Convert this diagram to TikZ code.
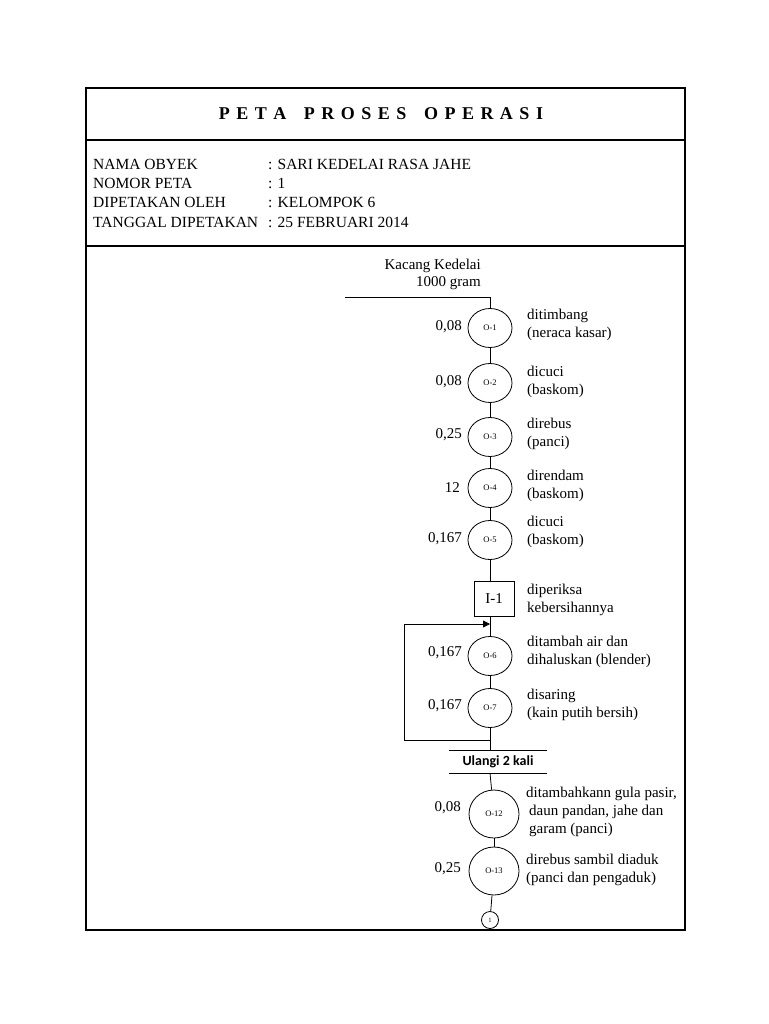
\documentclass[tikz,border=0pt]{standalone}
\usepackage{fontspec}
\setmainfont{Liberation Serif}
\newfontfamily\boxfont{Carlito}
\usetikzlibrary{shapes.geometric,arrows.meta}
\begin{document}
\begin{tikzpicture}[x=1pt,y=1pt]
	\tikzstyle{every node}+=[inner sep=0pt]
	\tikzstyle{opr}=[draw,ellipse,line width=0.8pt,minimum width=44pt,minimum height=39pt,font=\fontsize{8.5}{9}\selectfont]
	\tikzstyle{oprbig}=[opr,minimum width=50pt,minimum height=48pt]
	\tikzstyle{insp}=[draw,rectangle,line width=0.8pt,minimum width=40pt,minimum height=35pt,font=\fontsize{15}{18}\selectfont]
	\tikzstyle{tm}=[anchor=east,font=\fontsize{15}{18}\selectfont]
	\tikzstyle{desc}=[anchor=west,align=left,font=\fontsize{15}{18}\selectfont]
	\tikzstyle{info}=[anchor=base west,font=\fontsize{15.5}{19}\selectfont]
	\tikzstyle{flow}=[line width=0.8pt]
	\useasboundingbox (0,0) rectangle (768,-1024);
	% frame
	\draw [line width=1.2pt] (86,-88) rectangle (685,-930);
	\draw [line width=1.2pt] (86,-140) -- (685,-140);
	\draw [line width=1.2pt] (86,-246) -- (685,-246);
	\draw (381,-114) node (title) {\fontsize{18}{20}\selectfont\bfseries\spaceskip=6.5pt P E T A\hspace{11pt} P R O S E S\hspace{11pt} O P E R A S I};
	% info
	\draw (93,-170) node [info] (nama) {NAMA OBYEK};
	\draw (93,-189) node [info] (nomor) {NOMOR PETA};
	\draw (93,-208) node [info] (oleh) {DIPETAKAN OLEH};
	\draw (93,-227) node [info] (tgl) {TANGGAL DIPETAKAN};
	\draw (268,-170) node [info] (namav) {: SARI KEDELAI RASA JAHE};
	\draw (268,-189) node [info] (nomorv) {: 1};
	\draw (268,-208) node [info] (olehv) {: KELOMPOK 6};
	\draw (268,-227) node [info] (tglv) {: 25 FEBRUARI 2014};
	% bahan
	\draw (481,-274) node [anchor=east,align=right,font=\fontsize{15}{17}\selectfont] (bahan) {Kacang Kedelai\\1000 gram};
	\coordinate (startl) at (345,-297);
	\coordinate (start) at (490,-297);
	% operasi
	\draw (490,-328) node [opr] (o1) {O-1};
	\draw (490,-383) node [opr] (o2) {O-2};
	\draw (490,-437) node [opr] (o3) {O-3};
	\draw (490,-488) node [opr] (o4) {O-4};
	\draw (490,-540) node [opr] (o5) {O-5};
	\draw (494,-599) node [insp] (i1) {I-1};
	\draw (490,-656) node [opr] (o6) {O-6};
	\draw (490,-708) node [opr] (o7) {O-7};
	\draw (498,-762) node [minimum width=98pt,minimum height=22pt,font=\boxfont\bfseries\fontsize{14}{16}\selectfont] (ulangi) {Ulangi 2 kali};
	\draw (494,-814) node [oprbig] (o12) {O-12};
	\draw (494,-871) node [oprbig] (o13) {O-13};
	\draw (490,-920) node [draw,circle,line width=0.8pt,minimum size=17pt,font=\fontsize{6.5}{7}\selectfont] (c1) {1};
	% waktu
	\draw (462,-327) node [tm] (t1) {0,08};
	\draw (462,-382) node [tm] (t2) {0,08};
	\draw (462,-435) node [tm] (t3) {0,25};
	\draw (460,-488) node [tm] (t4) {12};
	\draw (462,-539) node [tm] (t5) {0,167};
	\draw (462,-653) node [tm] (t6) {0,167};
	\draw (462,-706) node [tm] (t7) {0,167};
	\draw (461,-808) node [tm] (t12) {0,08};
	\draw (461,-869) node [tm] (t13) {0,25};
	% keterangan
	\draw (527,-325) node [desc] (d1) {ditimbang\\(neraca kasar)};
	\draw (527,-382) node [desc] (d2) {dicuci\\(baskom)};
	\draw (527,-434) node [desc] (d3) {direbus\\(panci)};
	\draw (527,-486) node [desc] (d4) {direndam\\(baskom)};
	\draw (527,-532) node [desc] (d5) {dicuci\\(baskom)};
	\draw (527,-600) node [desc] (di1) {diperiksa\\kebersihannya};
	\draw (527,-652) node [desc] (d6) {ditambah air dan\\dihaluskan (blender)};
	\draw (527,-705) node [desc] (d7) {disaring\\(kain putih bersih)};
	\draw (526,-812) node [desc] (d12) {ditambahkann gula pasir,\\\hspace{3pt}daun pandan, jahe dan\\\hspace{3pt}garam (panci)};
	\draw (526,-870) node [desc] (d13) {direbus sambil diaduk\\(panci dan pengaduk)};
	% garis aliran
	\draw [flow] (startl) -- (start) -- (o1);
	\draw [flow] (o1) -- (o2);
	\draw [flow] (o2) -- (o3);
	\draw [flow] (o3) -- (o4);
	\draw [flow] (o4) -- (o5);
	\draw [flow] (o5) -- (o5 |- i1.north);
	\draw [flow] (o6 |- i1.south) -- (o6);
	\draw [flow] (o6) -- (o7);
	\draw [flow] (o7) -- (o7 |- ulangi.north);
	\draw [flow] (ulangi.north west) -- (ulangi.north east);
	\draw [flow] (ulangi.south west) -- (ulangi.south east);
	\draw [flow] (o7 |- ulangi.south) -- (o12);
	\draw [flow] (o12) -- (o13);
	\draw [flow] (o13) -- (c1);
	% ulangi
	\coordinate (lbot) at (490,-740);
	\coordinate (lbotl) at (404,-740);
	\coordinate (ltopl) at (404,-624);
	\coordinate (ltop) at (490,-624);
	\draw [flow,-{Triangle[length=7pt,width=7pt]}] (lbot) -- (lbotl) -- (ltopl) -- (ltop);
\end{tikzpicture}
\end{document}
